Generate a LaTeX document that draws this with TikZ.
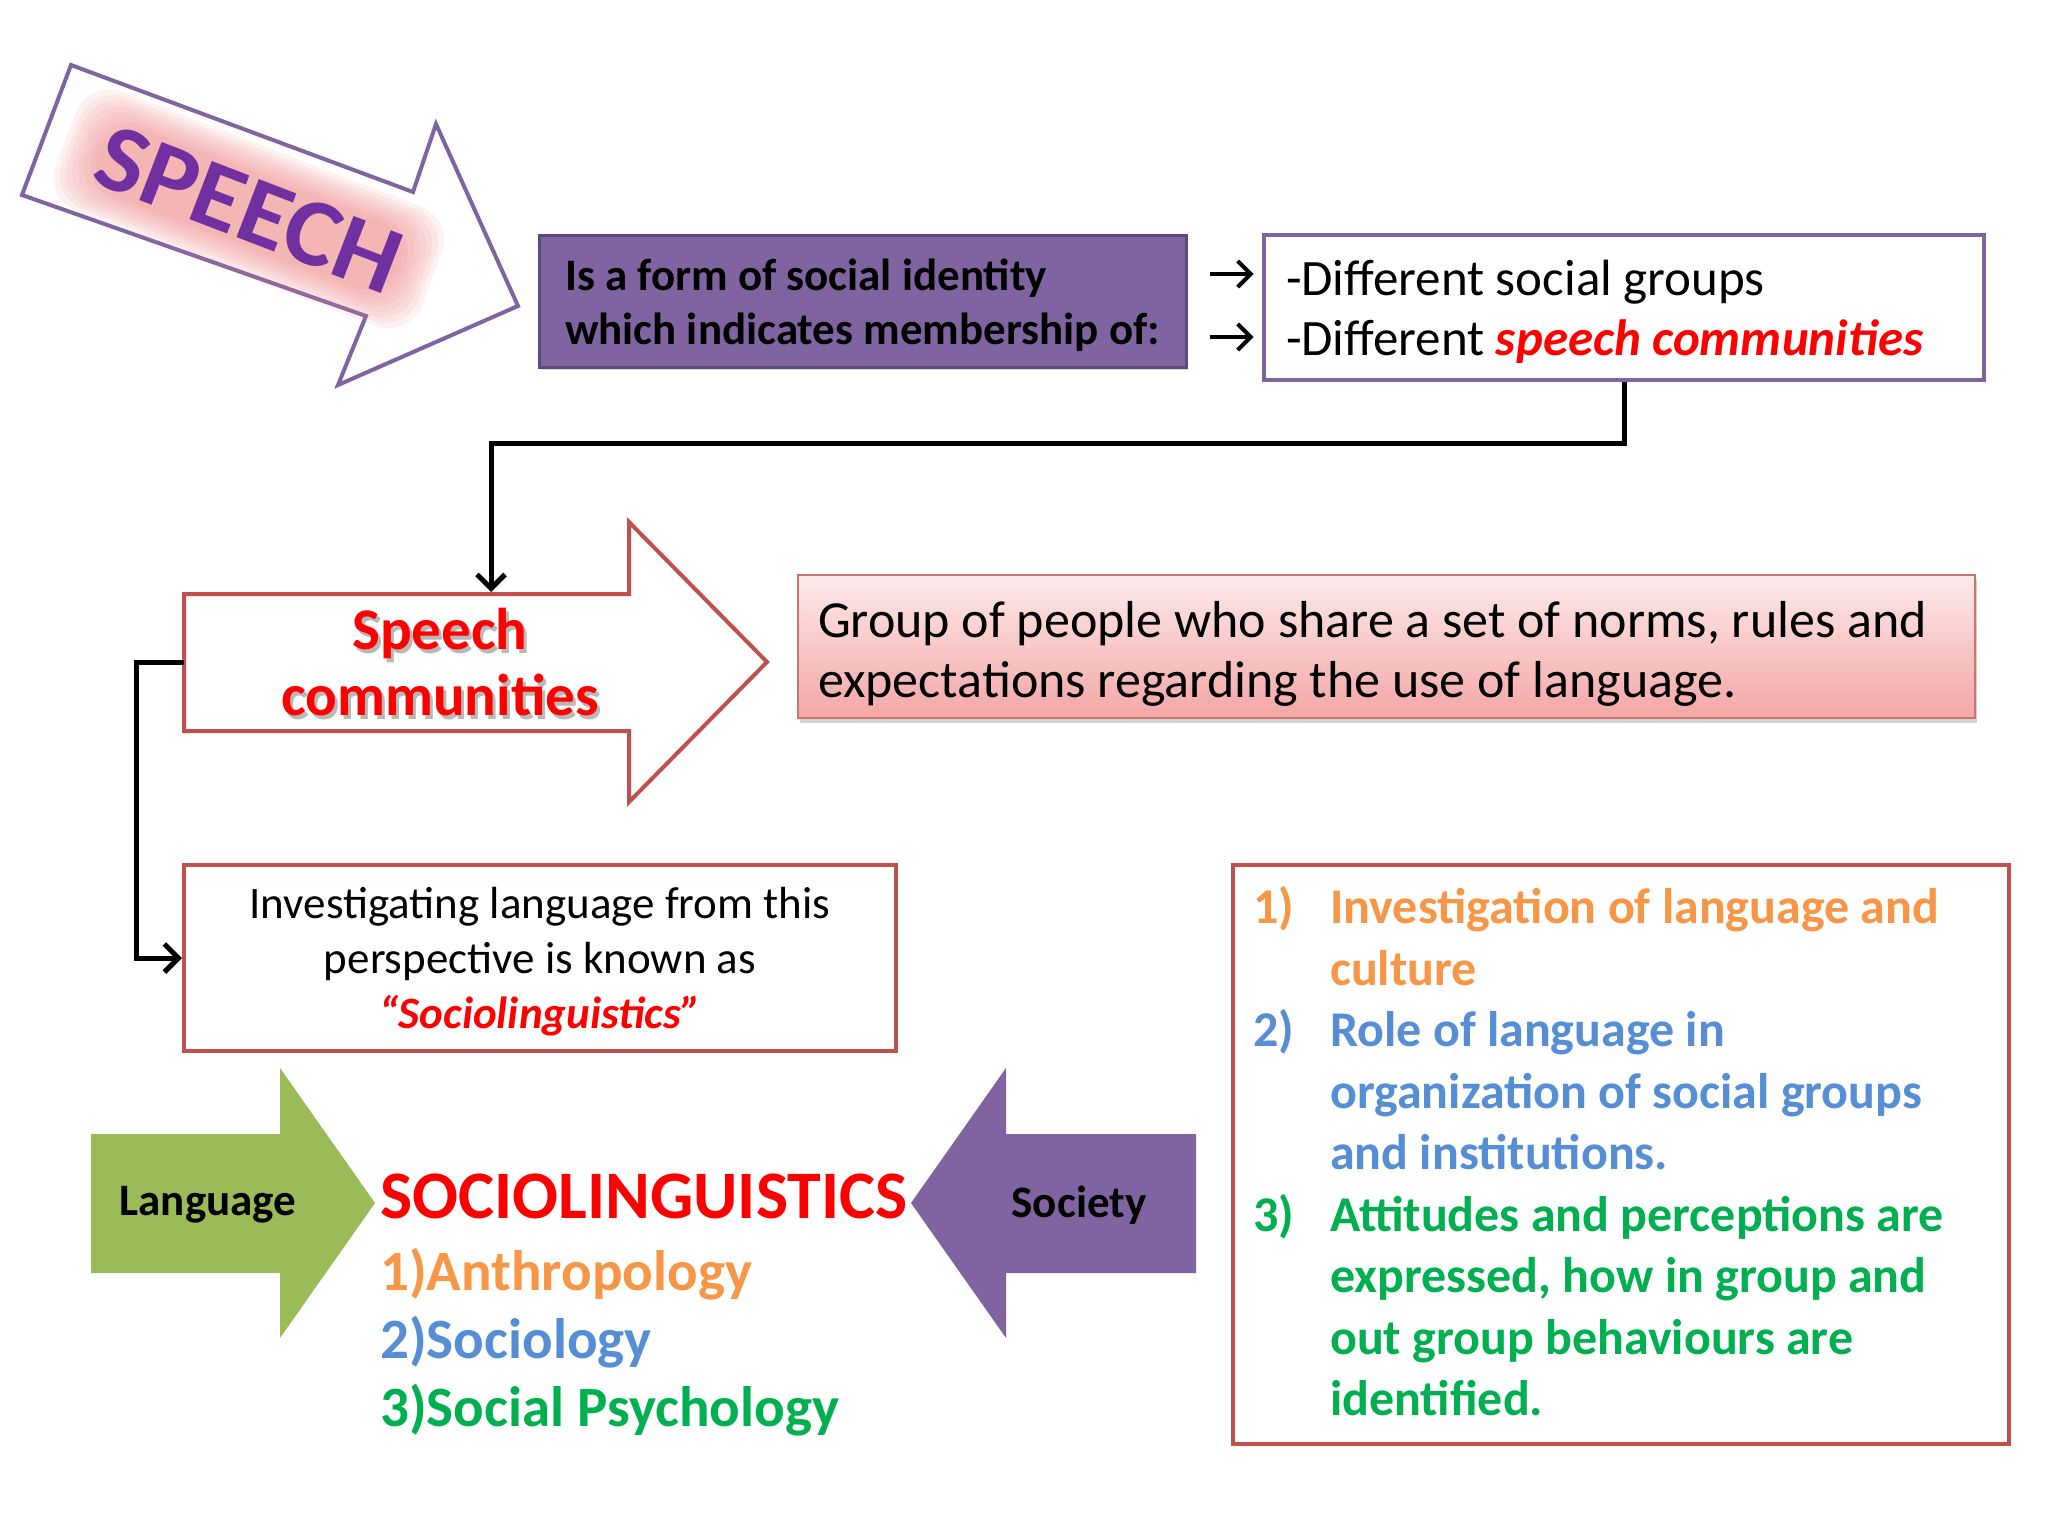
\documentclass[tikz,border=0pt]{standalone}
\usepackage{fontspec}
\setmainfont{Carlito}
\usetikzlibrary{arrows.meta,shadows}
\definecolor{pur}{HTML}{8064A2}
\definecolor{purdark}{HTML}{5C4A7E}
\definecolor{redb}{HTML}{C0504D}
\definecolor{grn}{HTML}{9BBB59}
\definecolor{orng}{HTML}{F79646}
\definecolor{blu}{HTML}{558ED5}
\definecolor{grtxt}{HTML}{00B050}
\definecolor{redt}{HTML}{FF0000}
\definecolor{sptxt}{HTML}{7030A0}
\definecolor{glow}{HTML}{F08A8A}
\definecolor{pinktop}{HTML}{FDEAEA}
\definecolor{pinkbot}{HTML}{F4A6A6}
\begin{document}
\begin{tikzpicture}[x=1pt,y=-1pt,line join=miter,
  conn/.style={line width=5pt,-{Straight Barb[length=14pt,width=28pt]}},
  sm/.style={line width=4pt,-{Straight Barb[length=13pt,width=26pt]}},
  redbox/.style={draw=redb,line width=4pt,fill=white},
  ]
\fill[white] (0,0) rectangle (2048,1536);
\path[use as bounding box] (0,0) rectangle (2048,1536);

% SPEECH arrow
\draw[draw=pur,line width=4pt,fill=white] (71,65) -- (413,192) -- (436,124) -- (518,306) -- (338,385) -- (366,316) -- (22,195) -- cycle;
\begin{scope}[shift={(249,209)},rotate=-21]
  \foreach \w/\h in {392/128,382/120,372/112,362/104,352/96,342/88,332/80,322/72}
    \fill[glow,opacity=0.11,rounded corners=36pt] (-\w/2,-\h/2) rectangle (\w/2,\h/2);
\end{scope}
\node[rotate=-21, text=sptxt, font=\fontsize{96}{104}\selectfont\bfseries, inner sep=0] (speech) at (249,209) {\scalebox{1.06}[1]{SPEECH}};

% purple box
\node[fill=pur, draw=purdark, line width=3pt, minimum width=647pt, minimum height=132pt,
  drop shadow={shadow xshift=2pt,shadow yshift=-3pt,opacity=.3}] (idn) at (862.5,301) {};
\node[align=left, font=\fontsize{45}{54}\selectfont\bfseries, inner sep=0] (idntext) at (862.5,305)
  {Is a form of social identity\\which indicates membership of:};

% different box
\node[draw=pur, line width=4pt, fill=white, minimum width=720pt, minimum height=145pt] (diff) at (1624,307.5) {};
\node[text width=676pt, inner sep=0pt, align=flush left, font=\fontsize{51}{60}\selectfont] (difftext) at (1624,312)
  {-Different social groups\\-Different {\color{redt}\bfseries\itshape speech communities}};

\draw[sm] (idn.east) ++(22,-27) -- ++(44,0);
\draw[sm] (idn.east) ++(22,36) -- ++(44,0);

% pink box
\node[draw=redb!80, line width=2pt, top color=pinktop, bottom color=pinkbot, minimum width=1177pt, minimum height=143pt,
  drop shadow={shadow xshift=2pt,shadow yshift=-5pt,opacity=.35}] (grp) at (1386.5,646.5) {};
\node[text width=1137pt, inner sep=0pt, align=flush left, font=\fontsize{52}{60}\selectfont] (grptext) at (1386.5,654)
  {Group of people who share a set of norms, rules and\\expectations regarding the use of language.};

% speech communities arrow
\draw[draw=redb, line width=4pt, fill=white] (184,594) -- (629,594) -- (629,522) -- (767,662) -- (629,802) -- (629,731) -- (184,731) -- cycle;
\node[text=black!55, opacity=.5, align=center, font=\fontsize{59}{66}\selectfont\bfseries] (scshadow) at (443,666) {Speech\\communities};
\node[text=redt, align=center, font=\fontsize{59}{66}\selectfont\bfseries] (sctext) at (440,662) {Speech\\communities};
\coordinate (sctop) at (491,592);
\coordinate (scleft) at (184,662);

% investigating box
\node[redbox, minimum width=712pt, minimum height=186pt] (inv) at (540,958) {};
\node[align=center, font=\fontsize{45}{55}\selectfont] (invtext) at (540,962)
  {Investigating language from this\\perspective is known as\\{\color{redt}\bfseries\itshape “Sociolinguistics”}};

% connectors
\draw[conn] (diff.south) -- ++(0,61) -| (sctop);
\draw[conn] (scleft) -- ++(-48,0) |- (inv.west);

% right box
\node[redbox, minimum width=776pt, minimum height=579pt] (rbox) at (1621,1154.5) {};
\node[anchor=west, inner sep=0, font=\fontsize{50}{61.5}\selectfont\bfseries] (rlist) at ([xshift=22pt,yshift=-3pt]rbox.west)
{\begin{tabular}{@{}p{77pt}@{}l@{}}
\textcolor{orng}{1)} & \textcolor{orng}{Investigation of language and}\\
 & \textcolor{orng}{culture}\\
\textcolor{blu}{2)} & \textcolor{blu}{Role of language in}\\
 & \textcolor{blu}{organization of social groups}\\
 & \textcolor{blu}{and institutions.}\\
\textcolor{grtxt}{3)} & \textcolor{grtxt}{Attitudes and perceptions are}\\
 & \textcolor{grtxt}{expressed, how in group and}\\
 & \textcolor{grtxt}{out group behaviours are}\\
 & \textcolor{grtxt}{identified.}
\end{tabular}};

% bottom arrows
\fill[grn] (91,1134) -- (280,1134) -- (280,1068) -- (375,1203) -- (280,1338) -- (280,1273) -- (91,1273) -- cycle;
\fill[pur] (1196,1134) -- (1006,1134) -- (1006,1068) -- (911,1203) -- (1006,1338) -- (1006,1273) -- (1196,1273) -- cycle;
\node[font=\fontsize{45}{54}\selectfont\bfseries] (lang) at (208,1205) {Language};
\node[font=\fontsize{45}{54}\selectfont\bfseries] (soc) at (1079,1205) {Society};

\node[anchor=base west, inner sep=0, text=redt, font=\fontsize{68}{80}\selectfont\bfseries] (socio) at (380,1218) {SOCIOLINGUISTICS};
\node[anchor=base west, inner sep=0, text=orng, font=\fontsize{57}{68}\selectfont\bfseries] (f1) at (380,1290) {1)Anthropology};
\node[anchor=base west, inner sep=0, text=blu, font=\fontsize{57}{68}\selectfont\bfseries] (f2) at (380,1358) {2)Sociology};
\node[anchor=base west, inner sep=0, text=grtxt, font=\fontsize{57}{68}\selectfont\bfseries] (f3) at (380,1426) {3)Social Psychology};
\end{tikzpicture}
\end{document}
